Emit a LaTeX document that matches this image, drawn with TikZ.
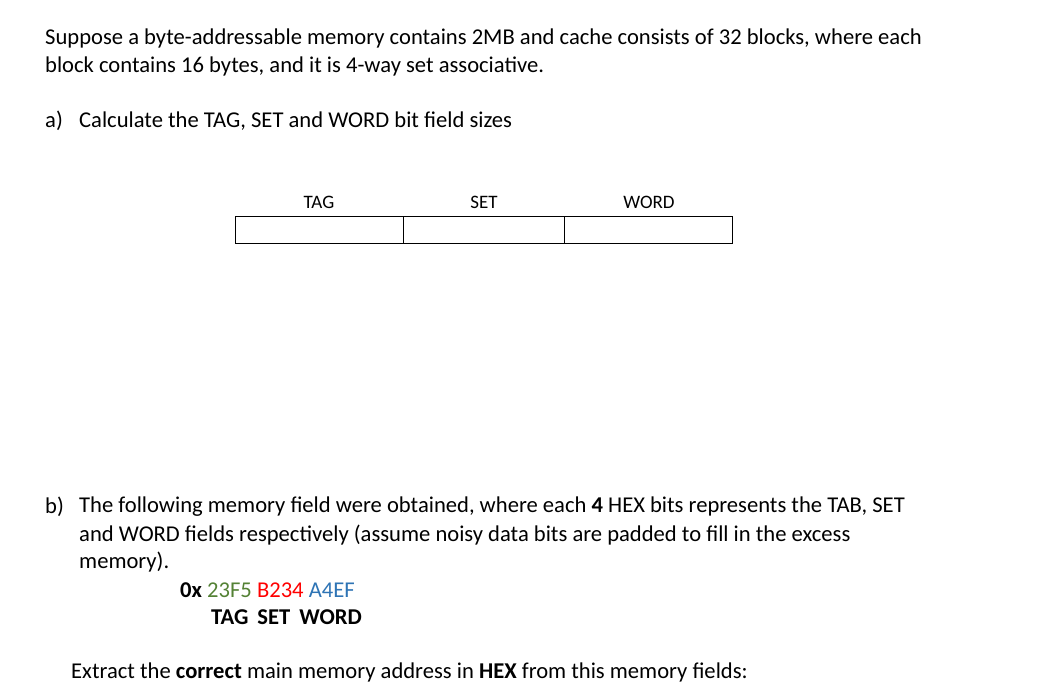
\documentclass[tikz,border=0pt]{standalone}
\usepackage{fontspec}
\setmainfont{Carlito}
\definecolor{hgreen}{HTML}{548235}
\definecolor{hred}{HTML}{FF0000}
\definecolor{hblue}{HTML}{2E74B5}
\begin{document}
\begin{tikzpicture}[x=1pt,y=-1pt,
  body/.style={anchor=west,inner sep=0pt,font=\fontsize{22.6}{26}\selectfont},
  lab/.style={inner sep=0pt,font=\fontsize{19}{22}\selectfont},
  field/.style={draw,line width=0.8pt,inner sep=0pt,minimum height=27pt,anchor=north west}]
\useasboundingbox[fill=white] (0,0) rectangle (1060,695);
\node[body] (l1) at (45,38) {Suppose a byte-addressable memory contains 2MB and cache consists of 32 blocks, where each};
\node[body] (l2) at (45,66) {block contains 16 bytes, and it is 4-way set associative.};
\node[body] (a1) at (45,121) {a)};
\node[body] (a2) at (79,121) {Calculate the TAG, SET and WORD bit field sizes};
\node[lab] (tag) at (319,202) {TAG};
\node[lab] (set) at (484,202) {SET};
\node[lab] (word) at (649,202) {WORD};
\node[field,minimum width=168pt] (f1) at (235,216) {};
\node[field,minimum width=161pt] (f2) at (403,216) {};
\node[field,minimum width=168pt] (f3) at (564,216) {};
\node[body] (b1) at (45,507) {b)};
\node[body] (b2) at (79,507) {The following memory field were obtained, where each \textbf{4} HEX bits represents the TAB, SET};
\node[body] (b3) at (79,535) {and WORD fields respectively (assume noisy data bits are padded to fill in the excess};
\node[body] (b4) at (79,562) {memory).};
\node[body] (hex) at (180,590) {\textbf{0x} \textcolor{hgreen}{23F5} \textcolor{hred}{B234} \textcolor{hblue}{A4EF}};
\node[body] (hl) at (211,617) {\textbf{TAG\hspace{0.4em}SET\hspace{0.4em}WORD}};
\node[body] (ex) at (71,672) {Extract the \textbf{correct} main memory address in \textbf{HEX} from this memory fields:};
\end{tikzpicture}
\end{document}
